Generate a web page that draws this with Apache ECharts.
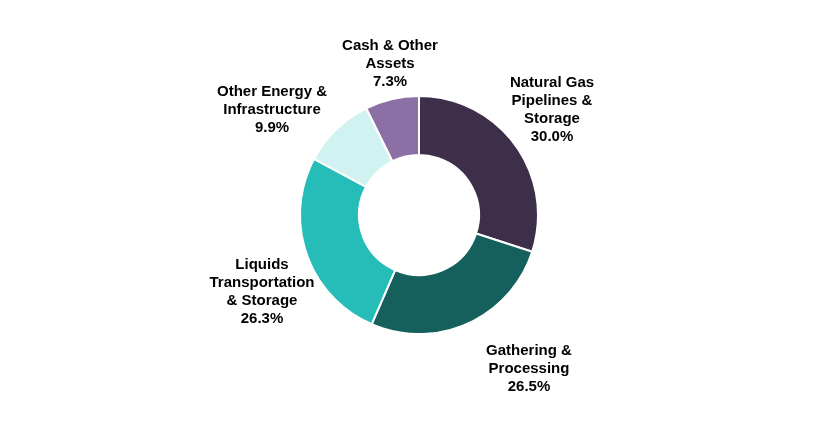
<!DOCTYPE html>
<html><head><meta charset="utf-8">
<script src="https://cdn.jsdelivr.net/npm/echarts@6/dist/echarts.min.js"></script>
<style>html,body{margin:0;padding:0;background:#fff}#c{width:823px;height:431px}</style>
</head><body><div id="c"></div>
<script>
const categories = ["Natural Gas\nPipelines &\nStorage", "Gathering &\nProcessing", "Liquids\nTransportation\n& Storage", "Other Energy &\nInfrastructure", "Cash & Other\nAssets"];
const values = [30.0, 26.5, 26.3, 9.9, 7.3];
const colors = ["#3d2e4a", "#155f5c", "#26bdb8", "#d0f3f2", "#8c6fa4"];
const labelPos = [[552, 110], [529, 369], [262, 292], [272, 110], [390, 64]];

const chart = echarts.init(document.getElementById('c'), null, {renderer: 'canvas'});
chart.setOption({
  animation: false,
  series: [{
    type: 'pie',
    center: [419, 215],
    radius: [60, 119],
    startAngle: 90,
    clockwise: true,
    data: categories.map((n, i) => ({name: n, value: values[i], itemStyle: {color: colors[i]}})),
    itemStyle: {borderColor: '#fff', borderWidth: 2},
    label: {
      show: true,
      formatter: p => p.name + '\n' + p.value.toFixed(1) + '%',
      fontFamily: 'Liberation Sans, Arial, sans-serif',
      fontWeight: 'bold',
      fontSize: 15,
      lineHeight: 18,
      color: '#000',
      align: 'center'
    },
    labelLine: {show: false},
    labelLayout: p => ({x: labelPos[p.dataIndex][0], y: labelPos[p.dataIndex][1], align: 'center', verticalAlign: 'middle'})
  }]
});
</script></body></html>
